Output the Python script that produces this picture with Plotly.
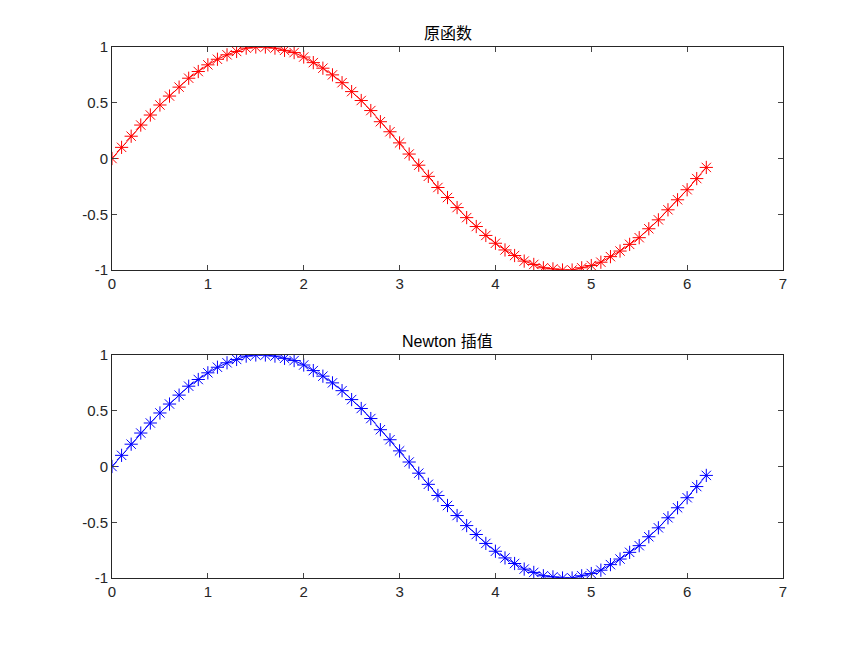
import plotly.graph_objects as go
from plotly.subplots import make_subplots

# x = 0:0.1:6.2
x = [round(i * 0.1, 1) for i in range(63)]
y_orig = [0.00, 0.10, 0.20, 0.30, 0.39, 0.48, 0.56, 0.64, 0.72, 0.78,
          0.84, 0.89, 0.93, 0.96, 0.99, 1.00, 1.00, 0.99, 0.97, 0.95,
          0.91, 0.86, 0.81, 0.75, 0.68, 0.60, 0.52, 0.43, 0.33, 0.24,
          0.14, 0.04, -0.06, -0.16, -0.26, -0.35, -0.44, -0.53, -0.61, -0.69,
          -0.76, -0.82, -0.87, -0.92, -0.95, -0.98, -0.99, -1.00, -1.00, -0.98,
          -0.96, -0.93, -0.88, -0.83, -0.77, -0.71, -0.63, -0.55, -0.46, -0.37,
          -0.28, -0.18, -0.08]
y_newton = list(y_orig)
titles = ["原函数", "Newton 插值"]

fig = make_subplots(rows=2, cols=1, vertical_spacing=0.16)
fig.add_trace(go.Scatter(x=x, y=y_orig, mode="lines+markers",
                         line=dict(color="red", width=1),
                         marker=dict(symbol="asterisk-open", size=11, color="red", line=dict(width=1, color="red"))),
              row=1, col=1)
fig.add_trace(go.Scatter(x=x, y=y_newton, mode="lines+markers",
                         line=dict(color="blue", width=1),
                         marker=dict(symbol="asterisk-open", size=11, color="blue", line=dict(width=1, color="blue"))),
              row=2, col=1)

fig.update_layout(
    width=865, height=648, showlegend=False,
    plot_bgcolor="white", paper_bgcolor="white",
    margin=dict(l=104, r=90, t=39, b=78, pad=0),
    font=dict(family="Liberation Sans, Noto Sans CJK SC", size=15, color="#262626"),
)
fig.layout.yaxis.domain = [0.58, 1.0]
fig.layout.yaxis2.domain = [0.0, 0.42]
fig.update_xaxes(range=[0, 7], dtick=1, showgrid=False, zeroline=False, showline=True,
                 linecolor="#262626", linewidth=1, mirror="ticks", ticks="inside", ticklen=5)
fig.update_yaxes(range=[-1, 1], tickvals=[-1, -0.5, 0, 0.5, 1], ticktext=["-1", "-0.5", "0", "0.5", "1"],
                 showgrid=False, zeroline=False, showline=True,
                 linecolor="#262626", linewidth=1, mirror="ticks", ticks="inside", ticklen=5)

for t, yd in zip(titles, [1.0, 0.42]):
    fig.add_annotation(text=t, x=0.5, y=yd, xref="paper", yref="paper",
                       xanchor="center", yanchor="bottom", yshift=3, showarrow=False,
                       font=dict(size=16, color="black"))

fig.write_html("out.html")
